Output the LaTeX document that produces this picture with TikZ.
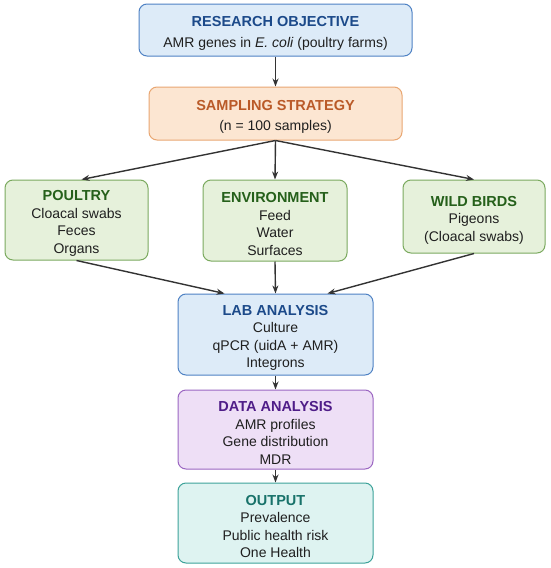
\documentclass[tikz,border=0pt]{standalone}
\usepackage{fontspec}
\setmainfont{Liberation Sans}
\usetikzlibrary{arrows.meta}

\definecolor{objfill}{HTML}{DDEBF8}
\definecolor{objline}{HTML}{4F82C4}
\definecolor{objtext}{HTML}{1C4A8A}
\definecolor{sampfill}{HTML}{FCE6D2}
\definecolor{sampline}{HTML}{E9A772}
\definecolor{samptext}{HTML}{BA5A28}
\definecolor{srcfill}{HTML}{E6F1DB}
\definecolor{srcline}{HTML}{7BAA5F}
\definecolor{srctext}{HTML}{25601A}
\definecolor{datafill}{HTML}{EEDFF6}
\definecolor{dataline}{HTML}{9B66C2}
\definecolor{datatext}{HTML}{4F1D88}
\definecolor{outfill}{HTML}{DEF3F1}
\definecolor{outline}{HTML}{3DA39A}
\definecolor{outtext}{HTML}{18726A}
\definecolor{arrowgray}{HTML}{333333}

% bold coloured heading; the strut lowers the text block a little
\newcommand{\boxtitle}[2]{{\fontsize{14.5}{18}\selectfont\rule{0pt}{17pt}\bfseries\color{#1}#2}}

\begin{document}
\begin{tikzpicture}[
		x=1pt, y=-1pt,
		box/.style={draw, rounded corners=8pt, line width=1pt, align=center, inner sep=0pt,
				font=\fontsize{14}{17.5}\selectfont, text=black!88},
		objbox/.style={box, fill=objfill, draw=objline},
		sampbox/.style={box, fill=sampfill, draw=sampline},
		srcbox/.style={box, fill=srcfill, draw=srcline},
		databox/.style={box, fill=datafill, draw=dataline},
		outbox/.style={box, fill=outfill, draw=outline},
		flow/.style={-{Stealth[length=8pt,width=6pt]}, line width=1.4pt, arrowgray}
	]
	\useasboundingbox[fill=white] (0,0) rectangle (550,568);

	\node[objbox, minimum width=273pt, minimum height=52pt] (objective) at (275.5,30)
	{\boxtitle{objtext}{RESEARCH OBJECTIVE}\\[4pt] AMR genes in \textit{E. coli} (poultry farms)};
	\node[sampbox, minimum width=253pt, minimum height=53pt] (sampling) at (275.5,113.5)
	{\boxtitle{samptext}{SAMPLING STRATEGY}\\[3pt] (n = 100 samples)};

	\node[srcbox, minimum width=143pt, minimum height=80pt] (poultry) at (76.5,220)
	{\boxtitle{srctext}{POULTRY}\\ Cloacal swabs\\ Feces\\ Organs};
	\node[srcbox, minimum width=144pt, minimum height=81pt] (environment) at (275,220.5)
	{\boxtitle{srctext}{ENVIRONMENT}\\ Feed\\ Water\\ Surfaces};
	\node[srcbox, minimum width=142pt, minimum height=73pt] (wildbirds) at (474,216.5)
	{\boxtitle{srctext}{WILD BIRDS}\\ Pigeons\\ (Cloacal swabs)};

	\node[objbox, minimum width=195pt, minimum height=81pt] (lab) at (275.5,334.5)
	{\boxtitle{objtext}{LAB ANALYSIS}\\ Culture\\ qPCR (uidA + AMR)\\ Integrons};
	\node[databox, minimum width=195pt, minimum height=79pt] (data) at (275.5,429.5)
	{\boxtitle{datatext}{DATA ANALYSIS}\\ AMR profiles\\ Gene distribution\\ MDR};
	\node[outbox, minimum width=195pt, minimum height=80pt] (output) at (275.5,523)
	{\boxtitle{outtext}{OUTPUT}\\ Prevalence\\ Public health risk\\ One Health};

	\draw[flow] (objective) -- (sampling);
	\draw[flow] (sampling.south) -- ([xshift=5pt]poultry.north);
	\draw[flow] (sampling.south) -- (environment.north);
	\draw[flow] (sampling.south) -- (wildbirds.north);

	\draw[flow] (poultry.south) -- ([xshift=47pt]lab.north west);
	\draw[flow] (environment.south) -- (lab.north);
	\draw[flow] (wildbirds.south) -- ([xshift=-46pt]lab.north east);

	\draw[flow] (lab) -- (data);
	\draw[flow] (data) -- (output);
\end{tikzpicture}
\end{document}
